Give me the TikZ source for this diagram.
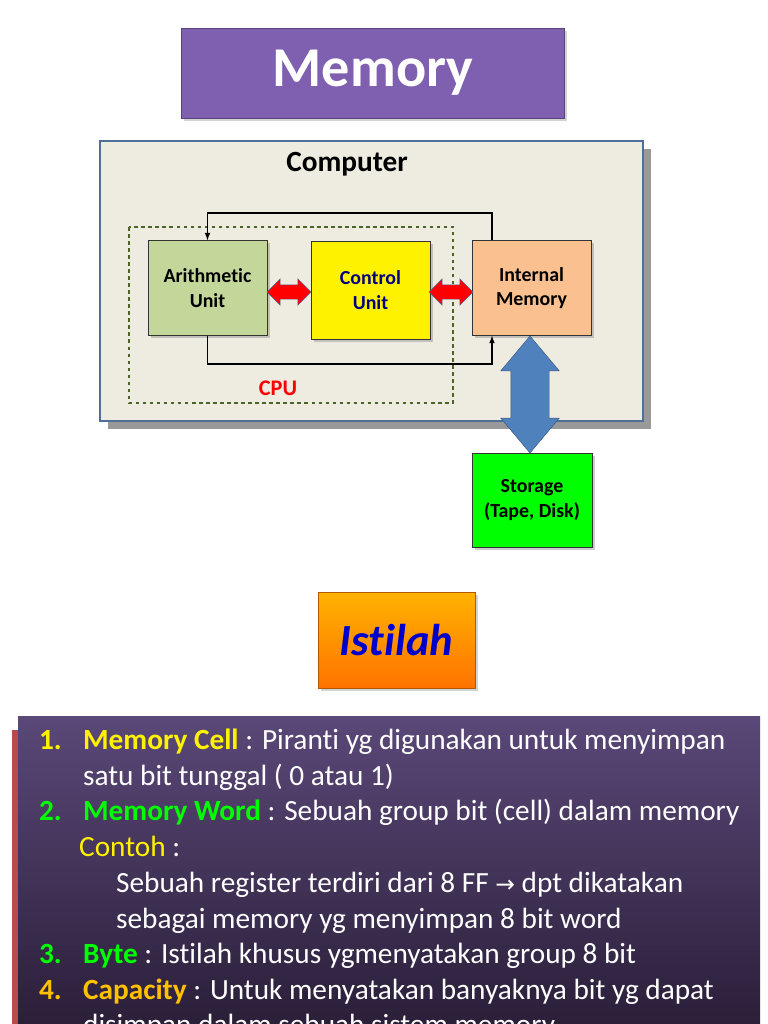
\documentclass[tikz,border=0pt]{standalone}
\usepackage{fontspec}
\setmainfont{Carlito}[Ligatures=NoCommon]
\usetikzlibrary{positioning,shapes.arrows,shadows}
\definecolor{titlepurple}{HTML}{7F5FB0}
\definecolor{compfill}{HTML}{EEECE1}
\definecolor{compborder}{HTML}{4F6E9A}
\definecolor{cpuolive}{HTML}{4F6228}
\definecolor{arithgreen}{HTML}{C4D79B}
\definecolor{memorange}{HTML}{FAC090}
\definecolor{busblue}{HTML}{4F81BD}
\definecolor{listtop}{HTML}{5A4878}
\definecolor{listbot}{HTML}{2A1E38}
\definecolor{capgold}{HTML}{FFC000}
\tikzset{
  unitbox/.style={draw=black!80, minimum width=119*0.03cm, minimum height=95*0.03cm,
    align=center, font=\fontsize{17}{21}\selectfont\bfseries, drop shadow={opacity=0.4}},
  redarrow/.style={double arrow, draw=compborder, fill=red, minimum height=44*0.03cm,
    inner xsep=0pt, inner ysep=7*0.03cm, double arrow head extend=6*0.03cm},
  flow/.style={->, >=latex, line width=1.2pt},
  listtext/.style={anchor=base west, text=white, font=\fontsize{25}{30}\selectfont}
}
\begin{document}
\begin{tikzpicture}[x=0.03cm, y=-0.03cm]
  \useasboundingbox (0,0) rectangle (768,1024);
  % title
  \node[fill=titlepurple, draw=titlepurple!70!black, minimum width=383*0.03cm, minimum height=90*0.03cm,
    text=white, font=\fontsize{48}{52}\selectfont\bfseries, drop shadow={opacity=0.35}] (title) at (373,73) {Memory};
  % computer frame
  \fill[black!40] (108,149) rectangle (651,429);
  \draw[fill=compfill, draw=compborder, line width=1pt] (100,141) rectangle (643,421);
  \node[font=\fontsize{25}{29}\selectfont\bfseries] (comp) at (347,164) {Computer};
  \draw[cpuolive, dashed, line width=1pt] (129,227) rectangle (453,403);
  \node[text=red, font=\fontsize{19}{22}\selectfont\bfseries] (cpu) at (278,388) {CPU};
  % units
  \node[unitbox, fill=arithgreen] (arith) at (207.5,288) {Arithmetic\\Unit};
  \node[unitbox, fill=yellow, text=blue!50!black, minimum height=98*0.03cm] (ctrl) at (370.5,290) {Control\\Unit};
  \node[unitbox, fill=memorange] (imem) at (531.5,288) {Internal\\Memory};
  \node[unitbox, fill=green, minimum width=120*0.03cm, minimum height=94*0.03cm] (store) at (532,500) {Storage\\(Tape, Disk)};
  \node[redarrow] (a1) at (289,292) {};
  \node[redarrow] (a2) at (451,292) {};
  % data paths
  \coordinate (ttop) at (492,213);
  \coordinate (tbot) at (208,364);
  \draw[flow] (imem.north -| ttop) |- (ttop) -| (arith.north);
  \draw[flow] (arith.south) |- (tbot -| ttop) -- (imem.south -| ttop);
  % bus to storage
  \node[double arrow, draw=compborder!80!black, fill=busblue, rotate=90, minimum height=117*0.03cm,
    inner xsep=0pt, inner ysep=19*0.03cm, double arrow head extend=10*0.03cm, double arrow tip angle=80]
    (bus) at (530,394.5) {};
  % istilah
  \node[draw=orange!70!black, top color=orange!60!yellow, bottom color=orange!90!red, minimum width=157*0.03cm,
    minimum height=96*0.03cm, text=blue!80!black, font=\fontsize{38}{44}\selectfont\bfseries\itshape,
    drop shadow={opacity=0.35}] (istilah) at (396.5,640) {Istilah};
  % list panel
  \fill[red!60!black!70] (12,730) rectangle (20,1024);
  \shade[top color=listtop, bottom color=listbot] (18,716) rectangle (760,1030);
  \node[listtext, text=yellow] (n1) at (35,749) {\bfseries 1.};
  \node[listtext] (t1) at (79,749) {\textcolor{yellow}{\bfseries Memory Cell} : Piranti yg digunakan untuk menyimpan};
  \node[listtext] (t1b) at (79,785) {satu bit tunggal ( 0 atau 1)};
  \node[listtext, text=green] (n2) at (35,820) {\bfseries 2.};
  \node[listtext] (t2) at (79,820) {\textcolor{green}{\bfseries Memory Word} : Sebuah group bit (cell) dalam memory};
  \node[listtext] (t2b) at (75,856) {\textcolor{yellow}{Contoh} :};
  \node[listtext] (t2c) at (112,892) {Sebuah register terdiri dari 8 FF {\fontspec{DejaVu Sans}\fontsize{20}{24}\selectfont→} dpt dikatakan};
  \node[listtext] (t2d) at (112,928) {sebagai memory yg menyimpan 8 bit word};
  \node[listtext, text=green] (n3) at (35,963) {\bfseries 3.};
  \node[listtext] (t3) at (79,963) {\textcolor{green}{\bfseries Byte} : Istilah khusus ygmenyatakan group 8 bit};
  \node[listtext, text=capgold] (n4) at (35,999) {\bfseries 4.};
  \node[listtext] (t4) at (79,999) {\textcolor{capgold}{\bfseries Capacity} : Untuk menyatakan banyaknya bit yg dapat};
  \node[listtext] (t4b) at (79,1034) {disimpan dalam sebuah sistem memory};
\end{tikzpicture}
\end{document}
